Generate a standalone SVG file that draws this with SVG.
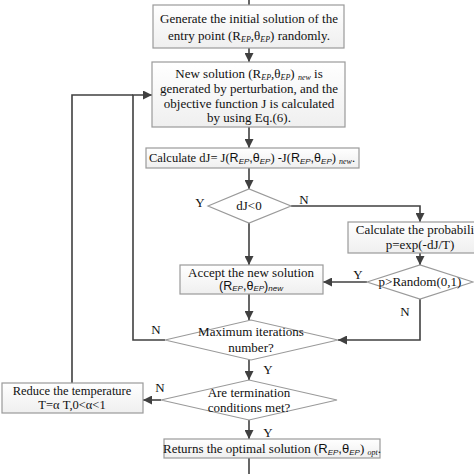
<svg xmlns="http://www.w3.org/2000/svg" width="474" height="474" viewBox="0 0 474 474">
<defs>
<linearGradient id="bg" x1="0" y1="0" x2="0" y2="1">
<stop offset="0" stop-color="#ffffff"/><stop offset="1" stop-color="#efefef"/>
</linearGradient>
<marker id="ah" viewBox="0 0 10 10" refX="10" refY="5" markerWidth="9" markerHeight="9" markerUnits="userSpaceOnUse" orient="auto">
<path d="M0,0 L10,5 L0,10 z" fill="#404040"/>
</marker>
</defs>
<style>
.box{fill:url(#bg);stroke:#9a9a9a;stroke-width:1.2}
.dia{fill:#ffffff;stroke:#9a9a9a;stroke-width:1.2}
.t{font-family:"Liberation Serif","Times New Roman",serif;font-size:13px;fill:#111;text-anchor:middle}
.sm{font-size:12.5px}
.s{font-family:"Liberation Sans",Arial,sans-serif}
.sub{font-size:8px;font-style:italic}
.lbl{font-family:"Liberation Serif","Times New Roman",serif;font-size:13px;fill:#111;text-anchor:middle}
.c{fill:none;stroke:#404040;stroke-width:1.6}
.ca{fill:none;stroke:#404040;stroke-width:1.6;marker-end:url(#ah)}
</style>
<rect width="474" height="474" fill="#ffffff"/>

<g id="connectors">
<line class="c" x1="249" y1="0" x2="249" y2="5"/>
<line class="ca" x1="249" y1="48" x2="249" y2="62"/>
<line class="ca" x1="249" y1="127" x2="249" y2="148"/>
<line class="ca" x1="249" y1="168" x2="249" y2="189"/>
<line class="ca" x1="249" y1="223" x2="249" y2="265"/>
<polyline class="ca" points="291,206 420,206 420,222"/>
<line class="ca" x1="420" y1="253" x2="420" y2="265"/>
<line class="ca" x1="367" y1="282" x2="323" y2="282"/>
<line class="ca" x1="249" y1="294" x2="249" y2="320"/>
<polyline class="ca" points="420,299 420,340 338,340"/>
<polyline class="ca" points="165,340 133,340 133,95 152,95"/>
<polyline class="c" points="72,383 72,95 133,95"/>
<line class="ca" x1="249" y1="360" x2="249" y2="380"/>
<line class="ca" x1="161" y1="400" x2="143" y2="400"/>
<line class="ca" x1="249" y1="420" x2="249" y2="439"/>
<line class="c" x1="249" y1="458" x2="249" y2="474"/>
<text class="lbl" x="200" y="207">Y</text>
<text class="lbl" x="304" y="204">N</text>
<text class="lbl" x="358" y="279">Y</text>
<text class="lbl" x="405" y="316">N</text>
<text class="lbl" x="156" y="334">N</text>
<text class="lbl" x="268" y="374">Y</text>
<text class="lbl" x="160" y="392">N</text>
<text class="lbl" x="268" y="437">Y</text>
</g>

<g id="n1">
<rect class="box" x="153" y="5" width="191" height="43"/>
<text class="t" x="249" y="23">Generate the initial solution of the</text>
<text class="t" x="249" y="40">entry point (R<tspan class="sub" dy="2">EP</tspan><tspan dy="-2">,θ</tspan><tspan class="sub" dy="2">EP</tspan><tspan dy="-2">)  randomly.</tspan></text>
</g>

<g id="n2">
<rect class="box" x="152" y="62" width="193" height="65"/>
<text class="t" x="249" y="78">New solution (R<tspan class="sub" dy="2">EP</tspan><tspan dy="-2">,θ</tspan><tspan class="sub" dy="2">EP</tspan><tspan dy="-2">) </tspan><tspan class="sub" dy="2">new</tspan><tspan dy="-2">  is</tspan></text>
<text class="t" x="249" y="93">generated by perturbation, and the</text>
<text class="t" x="249" y="108">objective function J is calculated</text>
<text class="t" x="249" y="122">by using Eq.(6).</text>
</g>

<g id="n3">
<rect class="box" x="146" y="148" width="213" height="20"/>
<text class="t sm" x="252" y="162">Calculate dJ= J(<tspan class="s">R</tspan><tspan class="sub s" dy="2">EP</tspan><tspan class="s" dy="-2">,θ</tspan><tspan class="sub s" dy="2">EP</tspan><tspan dy="-2">) -J(</tspan><tspan class="s">R</tspan><tspan class="sub s" dy="2">EP</tspan><tspan class="s" dy="-2">,θ</tspan><tspan class="sub s" dy="2">EP</tspan><tspan dy="-2">) </tspan><tspan class="sub" dy="2">new</tspan><tspan dy="-2">.</tspan></text>
</g>

<g id="d1">
<polygon class="dia" points="208,206 249,189 291,206 249,223"/>
<text class="t" x="249" y="210">dJ&lt;0</text>
</g>

<g id="n4">
<rect class="box" x="348" y="222" width="144" height="31"/>
<text class="t" x="420" y="234">Calculate the probability</text>
<text class="t" x="420" y="249">p=exp(-dJ/T)</text>
</g>

<g id="d2">
<polygon class="dia" points="367,282 420,265 473,282 420,299"/>
<text class="t" x="420" y="286">p&gt;Random(0,1)</text>
</g>

<g id="n5">
<rect class="box" x="180" y="265" width="143" height="29"/>
<text class="t" x="251" y="277">Accept the new solution</text>
<text class="t sm" x="251" y="290"><tspan class="s">(R</tspan><tspan class="sub s" dy="1">EP</tspan><tspan class="s" dy="-1">,θ</tspan><tspan class="sub s" dy="1">EP</tspan><tspan class="s" dy="-1">)</tspan><tspan class="sub s" dy="1">new</tspan></text>
</g>

<g id="d3">
<polygon class="dia" points="165,340 251,320 338,340 251,360"/>
<text class="t" x="251" y="336">Maximum iterations</text>
<text class="t" x="251" y="352">number?</text>
</g>

<g id="d4">
<polygon class="dia" points="161,400 249,380 337,400 249,420"/>
<text class="t" x="249" y="397">Are termination</text>
<text class="t" x="249" y="412">conditions met?</text>
</g>

<g id="n6">
<rect class="box" x="2" y="383" width="141" height="30"/>
<text class="t sm" x="72" y="395">Reduce the temperature</text>
<text class="t sm" x="72" y="409">T=α T,0&lt;α&lt;1</text>
</g>

<g id="n7">
<rect class="box" x="164" y="439" width="216" height="19"/>
<text class="t" x="272" y="453">Returns the optimal solution (<tspan class="s">R</tspan><tspan class="sub s" dy="2">EP</tspan><tspan class="s" dy="-2">,θ</tspan><tspan class="sub s" dy="2">EP</tspan><tspan dy="-2">) </tspan><tspan class="sub" dy="2">opt</tspan><tspan dy="-2">.</tspan></text>
</g>
</svg>
